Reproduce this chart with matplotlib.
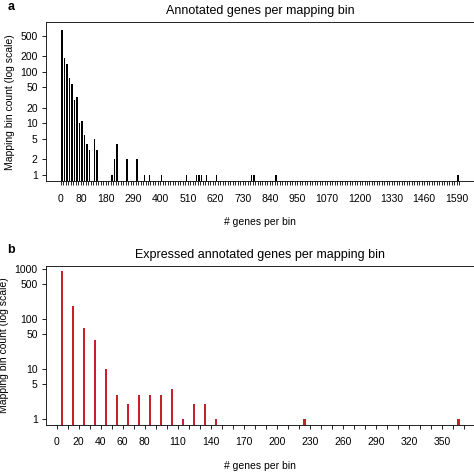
import matplotlib.pyplot as plt

# panel a: genes per bin (bin centre) and bin counts
a_bins = [5, 15, 25, 35, 45, 55, 65, 75, 85, 95, 105, 115, 135, 145, 205, 215, 225,
          265, 305, 335, 355, 405, 505, 545, 555, 565, 585, 625, 765, 775, 865, 1595]
a_counts = [650, 190, 140, 75, 58, 28, 32, 10, 11, 6, 4, 3, 5, 3, 1, 2, 4,
            2, 2, 1, 1, 1, 1, 1, 1, 1, 1, 1, 1, 1, 1, 1]
a_labels = [0, 80, 180, 290, 400, 510, 620, 730, 840, 950, 1070, 1200, 1330, 1460, 1590]

# panel b: expressed genes per bin
b_bins = [5, 15, 25, 35, 45, 55, 65, 75, 85, 95, 105, 115, 125, 135, 145, 225, 365]
b_counts = [900, 180, 65, 38, 10, 3, 2, 3, 3, 3, 4, 1, 2, 2, 1, 1, 1]
b_labels = [0, 20, 40, 60, 80, 110, 140, 170, 200, 230, 260, 290, 320, 350]

plt.rcParams['font.family'] = ['Liberation Sans', 'DejaVu Sans']
fig = plt.figure(figsize=(4.74, 4.74), dpi=100)
ax1 = fig.add_axes([0.097, 0.618, 0.903, 0.335])
ax2 = fig.add_axes([0.097, 0.104, 0.903, 0.335])


def style(ax, xmax, labels, ylim, yticks, title, letter):
    ax.set_yscale('log')
    ax.set_ylim(*ylim)
    ax.set_yticks(yticks)
    ax.set_yticklabels([str(t) for t in yticks])
    ax.minorticks_off()
    ticks = list(range(0, xmax + 1, 10))
    ax.set_xticks(ticks)
    ax.set_xticklabels([str(t) if t in labels else '' for t in ticks])
    ax.tick_params(axis='both', labelsize=7.5, length=3, width=0.6, direction='out', pad=3)
    ax.tick_params(axis='x', pad=6)
    for s in ax.spines.values():
        s.set_linewidth(0.6)
    ax.set_ylabel('Mapping bin count (log scale)', fontsize=7.5)
    ax.set_xlabel('# genes per bin', fontsize=7.5, labelpad=10)
    ax.set_title(title, fontsize=9, pad=6)
    ax.text(-0.09, 1.08, letter, transform=ax.transAxes, fontsize=9, fontweight='bold')


ax1.bar(a_bins, a_counts, width=6, color='black', bottom=0.01)
ax1.set_xlim(-60, 1660)
style(ax1, 1600, a_labels, (0.76, 920), [1, 2, 5, 10, 20, 50, 100, 200, 500],
      'Annotated genes per mapping bin', 'a')

ax2.bar(b_bins, b_counts, width=2, color='#c8202a', bottom=0.01)
ax2.set_xlim(-9.7, 379)
style(ax2, 370, b_labels, (0.77, 1150), [1, 5, 10, 50, 100, 500, 1000],
      'Expressed annotated genes per mapping bin', 'b')

fig.savefig('out.png', dpi=100)
